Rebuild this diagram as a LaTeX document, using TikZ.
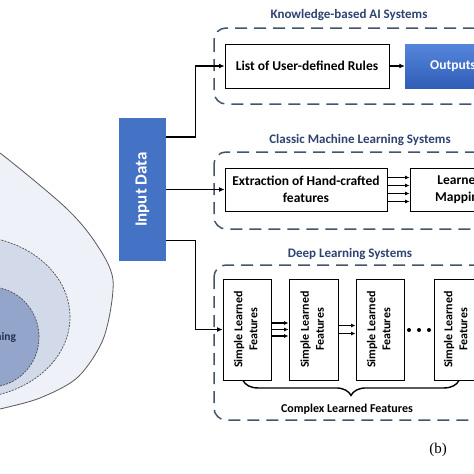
\documentclass[tikz,border=0pt]{standalone}
\usepackage{fontspec}
\setmainfont{Carlito}
\newfontfamily\Serifb{Liberation Serif}
\usetikzlibrary{arrows.meta,decorations.pathreplacing}
\definecolor{BleuOffice}{HTML}{4472C4}
\definecolor{BleuHaut}{HTML}{5586DC}
\definecolor{BleuBas}{HTML}{305DB6}
\definecolor{BleuNuit}{HTML}{2E4372}
\definecolor{GrisBleu}{HTML}{44546A}
\definecolor{Pale}{HTML}{EEF1F7}
\definecolor{Moyen}{HTML}{D2DAE9}
\definecolor{Fonce}{HTML}{93A5CB}
\tikzset{
Boite/.style={
 draw=black,
 fill=white,
 line width=0.9pt,
 inner sep=0pt,
 font=\fontsize{13.5}{16.5}\selectfont\bfseries
 },
BoiteBleue/.style={
 fill=BleuOffice,
 text=white,
 inner sep=0pt,
 font=\fontsize{13.5}{16.5}\selectfont\bfseries
 },
Couche/.style={
 Boite,
 minimum width=48pt,
 minimum height=101pt,
 font=\fontsize{12}{14}\selectfont\bfseries
 },
Cadre/.style={
 draw=GrisBleu,
 line width=1.5pt,
 dash pattern=on 12pt off 7pt,
 rounded corners=12pt
 },
Titre/.style={
 text=BleuNuit,
 font=\fontsize{13}{15}\selectfont\bfseries
 },
Fleche/.style={
 draw=black,
 line width=1.4pt,
 -{Latex[length=5.5pt,width=5pt]}
 },
PetiteFleche/.style={
 draw=black,
 line width=1.2pt,
 -{Latex[length=4.5pt,width=4pt]}
 },
Accolade/.style={
 draw=black,
 line width=1.4pt,
 decorate,
 decoration={brace,mirror,amplitude=15pt}
 },
Ensemble/.style={
 draw=black!70,
 line width=0.7pt,
 dash pattern=on 2pt off 1.2pt
 }
}
\newcommand{\SimpleFeat}{\rotatebox{90}{\begin{tabular}{@{}c@{}}Simple Learned\\[1pt]Features\end{tabular}}}

\begin{document}
\begin{tikzpicture}[x=1pt,y=-1pt]
\useasboundingbox (0,0) rectangle (474,474);
\clip (0,0) rectangle (474,474);
\filldraw[fill=Pale,draw=black!65,line width=0.8pt] plot[smooth] coordinates {(-20,143) (0,153) (65,207) (95,242) (113,280) (104,337) (78,377) (40,398) (0,409) (-20,413)} -- cycle;
\filldraw[Ensemble,fill=Moyen] (-30,317) ellipse (100pt and 81pt);
\filldraw[Ensemble,fill=Fonce] (-10,337) ellipse (49pt and 50pt);
\node[anchor=east,text=BleuNuit!70!black,font=\fontsize{11.5}{13}\selectfont\bfseries] (dl) at (19.5,337) {Deep Learning};

\draw[Cadre] (214,28) rectangle (520,104);
\draw[Cadre] (214,152) rectangle (520,229);
\draw[Cadre] (214,265) rectangle (520,420);
\node[Titre] (tkb) at (349,15) {Knowledge-based AI Systems};
\node[Titre] (tml) at (360,140) {Classic Machine Learning Systems};
\node[Titre] (tdl) at (350,254) {Deep Learning Systems};

\node[BoiteBleue,minimum width=47pt,minimum height=143pt,font=\fontsize{17}{19}\selectfont\bfseries] (input) at (142.5,189.5) {\rotatebox{90}{Input Data}};
\node[Boite,minimum width=164pt,minimum height=44pt] (rules) at (307,66) {List of User-defined Rules};
\node[BoiteBleue,top color=BleuHaut,bottom color=BleuBas,minimum width=96pt,minimum height=44pt] (outputs) at (453,66) {Outputs};
\node[Boite,minimum width=162pt,minimum height=43pt,align=center] (extract) at (306,189.5) {Extraction of Hand-crafted\\features};
\node[Boite,minimum width=100pt,minimum height=43pt,align=center] (mapping) at (460,189.5) {Learned\\Mapping};
\node[Couche] (s1) at (247,329.5) {\SimpleFeat};
\node[Couche,minimum width=49pt] (s2) at (313.5,329.5) {\SimpleFeat};
\node[Couche] (s3) at (380,329.5) {\SimpleFeat};
\node[Couche,minimum width=46pt] (s4) at (457,329.5) {\SimpleFeat};

\draw[Fleche] (input.north east) ++(0,19) -- ++(29,0) |- (rules.west);
\draw[Fleche] (input.east |- extract.west) -- (extract.west);
\draw[Fleche] (input.south east) ++(0,-21) -- ++(29,0) |- (s1.west);
\draw[Fleche] (rules) -- (outputs);
\foreach \d in {-12,-4,4,12}
 \draw[PetiteFleche] ([yshift=\d pt]extract.east) -- ([yshift=\d pt]mapping.west);
\foreach \d in {-6.5,0,6.5}
 \draw[PetiteFleche] ([yshift=\d pt]s1.east) -- ([yshift=\d pt]s2.west);
\foreach \d in {-4,4}
 \draw[PetiteFleche] ([yshift=\d pt]s2.east) -- ([yshift=\d pt]s3.west);
\foreach \x in {409,419,429}
 \fill (\x,330) circle (2pt);
\draw[Accolade] ([xshift=-4pt]s1.south) -- ([xshift=2pt]s4.south);
\node[font=\fontsize{12}{14}\selectfont\bfseries] (complexe) at (347,409) {Complex Learned Features};
\node[font=\Serifb\fontsize{15}{17}\selectfont] (b) at (438,450) {(b)};
\end{tikzpicture}
\end{document}
